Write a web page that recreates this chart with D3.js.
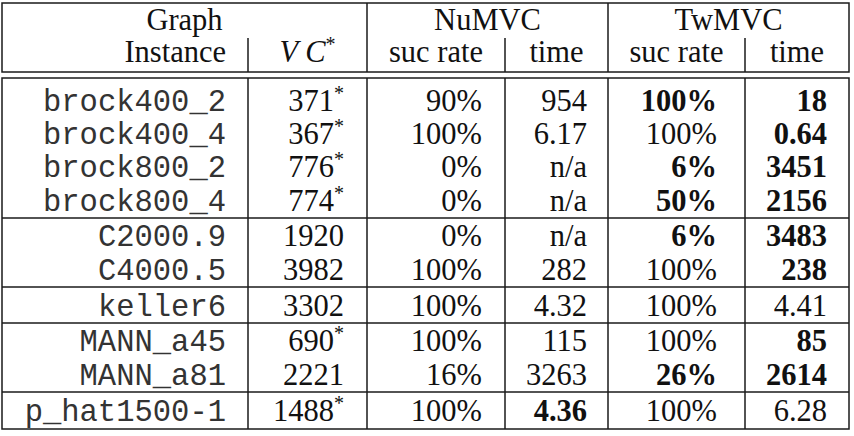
<!DOCTYPE html>
<html>
<head>
<meta charset="utf-8">
<script src="https://cdn.jsdelivr.net/npm/d3@7"></script>
<style>
  body { margin: 0; background: #fff; }
  svg text { fill: #111; }
</style>
</head>
<body>
<svg id="vimage" width="854" height="436"></svg>
<script>
// table values, one array per column
var instances = ["brock400_2", "brock400_4", "brock800_2", "brock800_4", "C2000.9",
                 "C4000.5", "keller6", "MANN_a45", "MANN_a81", "p_hat1500-1"];
var groups    = [0, 0, 0, 0, 1, 1, 2, 3, 3, 4];
var vc        = ["371", "367", "776", "774", "1920", "3982", "3302", "690", "2221", "1488"];
var vcOptimal = [true, true, true, true, false, false, false, true, false, true];
var nuRate    = ["90%", "100%", "0%", "0%", "0%", "100%", "100%", "100%", "16%", "100%"];
var nuTime    = ["954", "6.17", "n/a", "n/a", "n/a", "282", "4.32", "115", "3263", "4.36"];
var twRate    = ["100%", "100%", "6%", "50%", "6%", "100%", "100%", "100%", "26%", "100%"];
var twTime    = ["18", "0.64", "3451", "2156", "3483", "238", "4.41", "85", "2614", "6.28"];
var nuTimeBold = [false, false, false, false, false, false, false, false, false, true];
var twRateBold = [true, false, true, true, true, false, false, false, true, false];
var twTimeBold = [true, true, true, true, true, true, false, true, true, false];

var groupHeads = ["Graph", "NuMVC", "TwMVC"];
var subHeads   = ["Instance", "VC", "suc rate", "time", "suc rate", "time"];

// layout
var left = 2, right = 849;
var colEdges = [left, 248, 367, 505, 608, 745, right];
var textEnd = [226, 344, 482, 587, 717, 827];   // right edge of values in each column
var gapFrac = 0.075;
var serif = "'Liberation Serif', 'Times New Roman', serif";
var mono = "'Liberation Mono', 'Courier New', monospace";
var fs = 30.5;

var svg = d3.select("#vimage");

var rows = instances.map(function(name, i) {
	return {
		name: name, slot: i + groups[i] * gapFrac, group: groups[i],
		cells: [
			{v: vc[i], star: vcOptimal[i], bold: false},
			{v: nuRate[i], bold: false},
			{v: nuTime[i], bold: nuTimeBold[i]},
			{v: twRate[i], bold: twRateBold[i]},
			{v: twTime[i], bold: twTimeBold[i]}
		]
	};
});

var maxSlot = d3.max(rows, function(d) { return d.slot; });
var y = d3.scaleLinear().domain([0, maxSlot]).range([100, 410]);

function line(x1, y1, x2, y2) {
	svg.append("line")
		.attr("x1", x1).attr("y1", y1).attr("x2", x2).attr("y2", y2)
		.attr("stroke", "#1a1a1a").attr("stroke-width", 1.5);
}

// header box
var hTop = 3, hBot = 72, hMid = 38;
svg.append("rect").attr("x", left).attr("y", hTop).attr("width", right - left).attr("height", hBot - hTop)
	.attr("fill", "none").attr("stroke", "#1a1a1a").attr("stroke-width", 1.5);
line(colEdges[2], hTop, colEdges[2], hBot);
line(colEdges[4], hTop, colEdges[4], hBot);
[1, 3, 5].forEach(function(c) { line(colEdges[c], hMid, colEdges[c], hBot); });

// body box
var bTop = 78, bBot = 429;
svg.append("rect").attr("x", left).attr("y", bTop).attr("width", right - left).attr("height", bBot - bTop)
	.attr("fill", "none").attr("stroke", "#1a1a1a").attr("stroke-width", 1.5);
colEdges.slice(1, -1).forEach(function(x) { line(x, bTop, x, bBot); });

// group separators
for (var i = 1; i < rows.length; i++) {
	if (rows[i].group != rows[i - 1].group) {
		var ys = (y(rows[i].slot) + y(rows[i - 1].slot)) / 2;
		line(left, ys, right, ys);
	}
}

// header text
var headRow1 = 30, headRow2 = 62;
var spans = [[left, colEdges[2]], [colEdges[2], colEdges[4]], [colEdges[4], right]];
svg.selectAll("text.ghead").data(groupHeads).enter().append("text")
	.attr("class", "ghead")
	.attr("x", function(d, i) { return (spans[i][0] + spans[i][1]) / 2; })
	.attr("y", headRow1)
	.attr("text-anchor", "middle")
	.style("font-family", serif).style("font-size", fs + "px")
	.text(function(d) { return d; });

svg.selectAll("text.shead").data(subHeads).enter().append("text")
	.attr("class", "shead")
	.attr("x", function(d, i) { return i == 0 ? textEnd[0] : (colEdges[i] + colEdges[i + 1]) / 2; })
	.attr("y", headRow2)
	.attr("text-anchor", function(d, i) { return i == 0 ? "end" : "middle"; })
	.style("font-family", serif).style("font-size", fs + "px")
	.each(function(d, i) {
		var t = d3.select(this);
		if (i == 1) {
			t.append("tspan").style("font-style", "italic").text("V C");
			t.append("tspan").attr("dy", -11).style("font-size", "20px").text("*");
		} else {
			t.text(d);
		}
	});

// body text
var g = svg.selectAll("g.row").data(rows).enter().append("g")
	.attr("class", "row")
	.attr("transform", function(d) { return "translate(0," + (y(d.slot) + 10.5) + ")"; });

g.append("text")
	.attr("x", textEnd[0])
	.attr("text-anchor", "end")
	.style("font-family", mono).style("font-size", fs + "px")
	.style("fill", "#333")
	.text(function(d) { return d.name; });

g.selectAll("text.cell").data(function(d) { return d.cells; }).enter().append("text")
	.attr("class", "cell")
	.attr("x", function(d, i) { return textEnd[i + 1]; })
	.attr("text-anchor", "end")
	.style("font-family", serif).style("font-size", fs + "px")
	.style("font-weight", function(d) { return d.bold ? "bold" : "normal"; })
	.each(function(d) {
		var t = d3.select(this);
		if (d.star) {
			t.append("tspan").text(d.v);
			t.append("tspan").attr("dy", -11).style("font-size", "20px").text("*");
		} else {
			t.text(d.v);
		}
	});
</script>
</body>
</html>
